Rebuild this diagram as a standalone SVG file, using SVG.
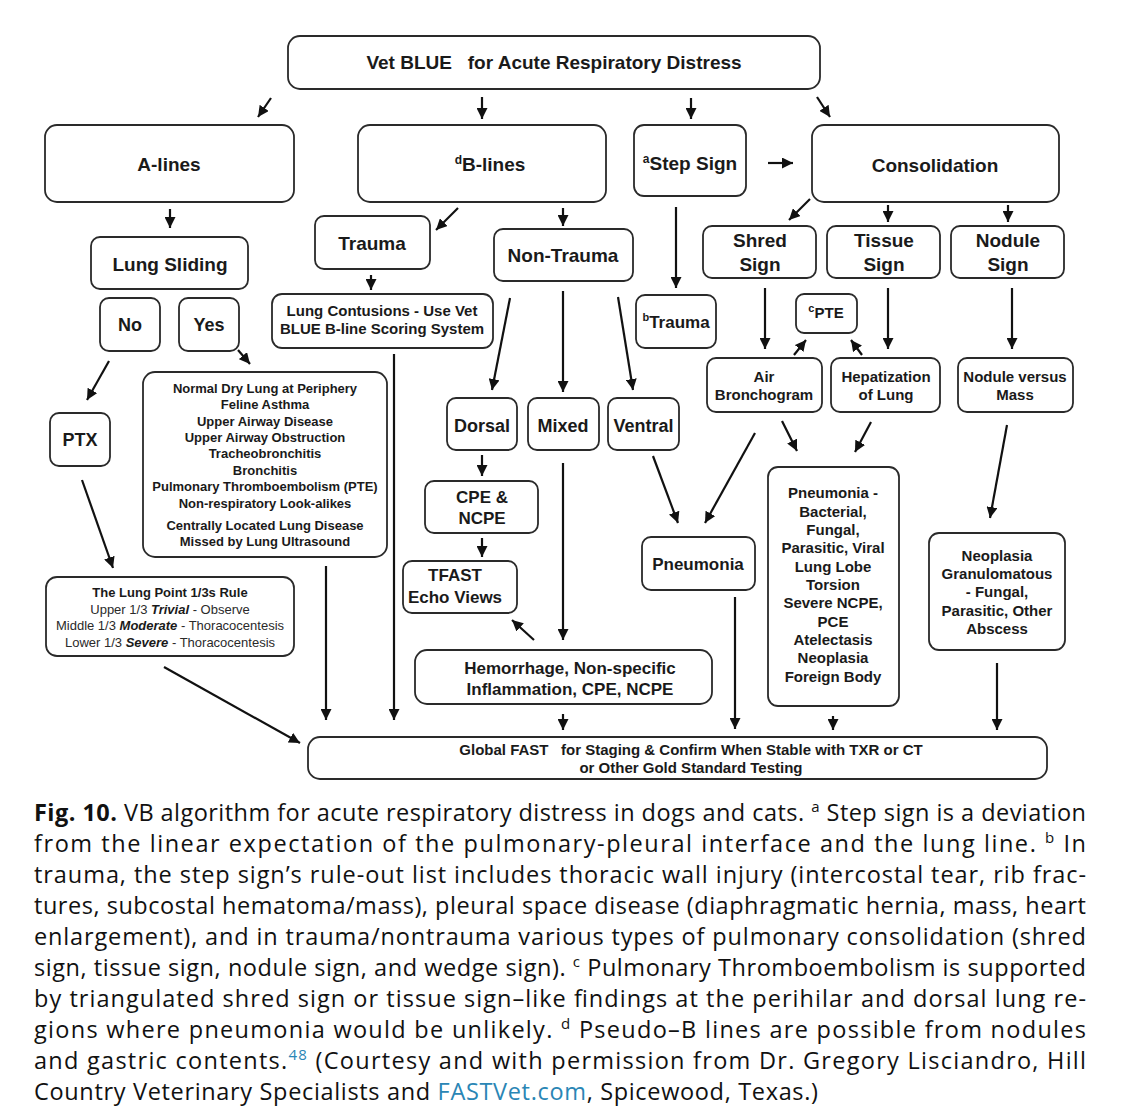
<svg xmlns="http://www.w3.org/2000/svg" width="1128" height="1120" viewBox="0 0 1128 1120">
<style>
.bx{fill:#fff;stroke:#2a2a2a;stroke-width:1.8}
.t{font-family:"Liberation Sans",Arial,sans-serif;font-weight:bold;fill:#1a1a1a;text-anchor:middle}
.s19{font-size:19px}.s18{font-size:18px}.s17{font-size:17px}.s15{font-size:15px}.s13{font-size:13px}
.r{font-weight:normal;fill:#2a2a2a}
.c path{stroke:#111;stroke-width:2.2;fill:none;marker-end:url(#ah)}
.cap{font-family:"Open Sans","Noto Sans",sans-serif;font-size:23.5px;fill:#111}
.bl{fill:#2a86b5}
</style>
<defs>
<marker id="ah" viewBox="0 0 10 10" refX="10" refY="5" markerWidth="11" markerHeight="11" markerUnits="userSpaceOnUse" orient="auto"><path d="M0,0 L10,5 L0,10 z" fill="#111"/></marker>
</defs>
<rect width="1128" height="1120" fill="#fff"/>

<g class="c" id="connectors">
<path d="M271,98 L258,117"/>
<path d="M482,97 L482,119"/>
<path d="M691,98 L691,119"/>
<path d="M817,97 L830,117"/>
<path d="M768,163 L793,163"/>
<path d="M170,209 L170,228"/>
<path d="M458,208 L436,230"/>
<path d="M563,208 L563,226"/>
<path d="M810,199 L789,220"/>
<path d="M888,205 L888,222"/>
<path d="M1008,205 L1008,222"/>
<path d="M371,275 L371,290"/>
<path d="M676,207 L676,288"/>
<path d="M765,288 L765,349"/>
<path d="M888,288 L888,349"/>
<path d="M1012,288 L1012,349"/>
<path d="M794,355 L806,340"/>
<path d="M862,355 L851,340"/>
<path d="M109,361 L87,400"/>
<path d="M238,350 L250,364"/>
<path d="M82,480 L113,568"/>
<path d="M164,667 L300,743"/>
<path d="M326,566 L326,720"/>
<path d="M394,354 L394,720"/>
<path d="M510,298 L492,390"/>
<path d="M563,291 L563,392"/>
<path d="M618,297 L633,390"/>
<path d="M482,455 L482,476"/>
<path d="M482,538 L482,557"/>
<path d="M534,640 L512,620"/>
<path d="M563,463 L563,640"/>
<path d="M563,714 L563,730"/>
<path d="M653,456 L678,523"/>
<path d="M755,433 L705,523"/>
<path d="M735,597 L735,729"/>
<path d="M782,421 L797,451"/>
<path d="M871,422 L855,452"/>
<path d="M833,716 L833,730"/>
<path d="M1007,425 L990,518"/>
<path d="M997,663 L997,730"/>
</g>

<g id="title"><rect class="bx" x="288" y="36" width="532" height="53" rx="12"/>
<text class="t s19" x="554" y="68.5" xml:space="preserve">Vet BLUE   for Acute Respiratory Distress</text></g>

<g id="alines"><rect class="bx" x="45" y="125" width="249" height="77" rx="12"/>
<text class="t s19" x="169" y="171">A-lines</text></g>

<g id="blines"><rect class="bx" x="358" y="125" width="248" height="77" rx="12"/>
<text class="t s19" x="490" y="171"><tspan font-size="12" dy="-7">d</tspan><tspan dy="7">B-lines</tspan></text></g>

<g id="stepsign"><rect class="bx" x="634" y="125" width="112" height="71" rx="10"/>
<text class="t s19" x="690" y="170"><tspan font-size="12" dy="-7">a</tspan><tspan dy="7">Step Sign</tspan></text></g>

<g id="consolidation"><rect class="bx" x="812" y="125" width="247" height="77" rx="12"/>
<text class="t s19" x="935" y="172">Consolidation</text></g>

<g id="lungsliding"><rect class="bx" x="91" y="237" width="157" height="52" rx="9"/>
<text class="t s19" x="170" y="271">Lung Sliding</text></g>

<g id="no"><rect class="bx" x="100" y="298" width="60" height="53" rx="9"/>
<text class="t s18" x="130" y="331">No</text></g>

<g id="yes"><rect class="bx" x="179" y="298" width="60" height="53" rx="9"/>
<text class="t s18" x="209" y="331">Yes</text></g>

<g id="trauma"><rect class="bx" x="315" y="216" width="115" height="53" rx="9"/>
<text class="t s19" x="372" y="250">Trauma</text></g>

<g id="nontrauma"><rect class="bx" x="494" y="229" width="139" height="52" rx="9"/>
<text class="t s19" x="563" y="262">Non-Trauma</text></g>

<g id="contusions"><rect class="bx" x="272" y="294" width="221" height="54" rx="10"/>
<text class="t s15" x="382" y="316">Lung Contusions - Use Vet</text>
<text class="t s15" x="382" y="334">BLUE B-line Scoring System</text></g>

<g id="shred"><rect class="bx" x="703" y="226" width="113" height="52" rx="9"/>
<text class="t s19" x="760" y="247">Shred</text><text class="t s19" x="760" y="271">Sign</text></g>

<g id="tissue"><rect class="bx" x="827" y="226" width="113" height="52" rx="9"/>
<text class="t s19" x="884" y="247">Tissue</text><text class="t s19" x="884" y="271">Sign</text></g>

<g id="nodule"><rect class="bx" x="951" y="226" width="113" height="52" rx="9"/>
<text class="t s19" x="1008" y="247">Nodule</text><text class="t s19" x="1008" y="271">Sign</text></g>

<g id="btrauma"><rect class="bx" x="636" y="295" width="80" height="53" rx="9"/>
<text class="t s17" x="676" y="328"><tspan font-size="11" dy="-7">b</tspan><tspan dy="7">Trauma</tspan></text></g>

<g id="pte"><rect class="bx" x="796" y="294" width="61" height="39" rx="8"/>
<text class="t s15" x="826" y="318"><tspan font-size="11" dy="-6">c</tspan><tspan dy="6">PTE</tspan></text></g>

<g id="airbronch"><rect class="bx" x="707" y="358" width="115" height="54" rx="9"/>
<text class="t s15" x="764" y="382">Air</text><text class="t s15" x="764" y="400">Bronchogram</text></g>

<g id="hepat"><rect class="bx" x="831" y="358" width="109" height="54" rx="9"/>
<text class="t s15" x="886" y="382">Hepatization</text><text class="t s15" x="886" y="400">of Lung</text></g>

<g id="nodmass"><rect class="bx" x="958" y="358" width="115" height="54" rx="9"/>
<text class="t s15" x="1015" y="382">Nodule versus</text><text class="t s15" x="1015" y="400">Mass</text></g>

<g id="ptx"><rect class="bx" x="50" y="413" width="60" height="53" rx="9"/>
<text class="t s18" x="80" y="446">PTX</text></g>

<g id="normal"><rect class="bx" x="143" y="372" width="244" height="185" rx="12"/>
<g class="t s13">
<text x="265" y="392.5">Normal Dry Lung at Periphery</text>
<text x="265" y="408.5">Feline Asthma</text>
<text x="265" y="425.5">Upper Airway Disease</text>
<text x="265" y="441.5">Upper Airway Obstruction</text>
<text x="265" y="457.5">Tracheobronchitis</text>
<text x="265" y="474.5">Bronchitis</text>
<text x="265" y="490.5">Pulmonary Thromboembolism (PTE)</text>
<text x="265" y="507.5">Non-respiratory Look-alikes</text>
<text x="265" y="529.5">Centrally Located Lung Disease</text>
<text x="265" y="545.5">Missed by Lung Ultrasound</text>
</g></g>

<g id="lungpoint"><rect class="bx" x="46" y="577" width="248" height="79" rx="11"/>
<g class="t s13">
<text x="170" y="596.5">The Lung Point 1/3s Rule</text>
<text class="r" x="170" y="613.5">Upper 1/3 <tspan font-weight="bold" font-style="italic" fill="#1a1a1a">Trivial</tspan> - Observe</text>
<text class="r" x="170" y="629.5">Middle 1/3 <tspan font-weight="bold" font-style="italic" fill="#1a1a1a">Moderate</tspan> - Thoracocentesis</text>
<text class="r" x="170" y="646.5">Lower 1/3 <tspan font-weight="bold" font-style="italic" fill="#1a1a1a">Severe</tspan> - Thoracocentesis</text>
</g></g>

<g id="dorsal"><rect class="bx" x="447" y="398" width="70" height="52" rx="9"/>
<text class="t s18" x="482" y="432">Dorsal</text></g>
<g id="mixed"><rect class="bx" x="528" y="398" width="71" height="52" rx="9"/>
<text class="t s18" x="563" y="432">Mixed</text></g>
<g id="ventral"><rect class="bx" x="608" y="398" width="71" height="52" rx="9"/>
<text class="t s18" x="643.5" y="432">Ventral</text></g>

<g id="cpe"><rect class="bx" x="425" y="481" width="113" height="52" rx="9"/>
<text class="t s17" x="482" y="503">CPE &amp;</text><text class="t s17" x="482" y="524">NCPE</text></g>

<g id="tfast"><rect class="bx" x="403" y="561" width="114" height="52" rx="9"/>
<text class="t s17" x="455" y="581">TFAST</text><text class="t s17" x="455" y="603">Echo Views</text></g>

<g id="hemorrhage"><rect class="bx" x="415" y="650" width="297" height="54" rx="12"/>
<text class="t s17" x="570" y="674">Hemorrhage, Non-specific</text>
<text class="t s17" x="570" y="695">Inflammation, CPE, NCPE</text></g>

<g id="pneumonia"><rect class="bx" x="642" y="537" width="113" height="53" rx="9"/>
<text class="t s17" x="698" y="570">Pneumonia</text></g>

<g id="plist"><rect class="bx" x="768" y="467" width="131" height="239" rx="10"/>
<g class="t s15">
<text x="833" y="498">Pneumonia -</text>
<text x="833" y="517">Bacterial,</text>
<text x="833" y="535">Fungal,</text>
<text x="833" y="553">Parasitic, Viral</text>
<text x="833" y="572">Lung Lobe</text>
<text x="833" y="590">Torsion</text>
<text x="833" y="608">Severe NCPE,</text>
<text x="833" y="627">PCE</text>
<text x="833" y="645">Atelectasis</text>
<text x="833" y="663">Neoplasia</text>
<text x="833" y="682">Foreign Body</text>
</g></g>

<g id="neoplasia"><rect class="bx" x="929" y="533" width="136" height="117" rx="10"/>
<g class="t s15">
<text x="997" y="561">Neoplasia</text>
<text x="997" y="579">Granulomatous</text>
<text x="997" y="597">- Fungal,</text>
<text x="997" y="616">Parasitic, Other</text>
<text x="997" y="634">Abscess</text>
</g></g>

<g id="global"><rect class="bx" x="308" y="737" width="739" height="42" rx="12"/>
<text class="t" font-size="15" x="691" y="755" xml:space="preserve">Global FAST   for Staging &amp; Confirm When Stable with TXR or CT</text>
<text class="t" font-size="15" x="691" y="773">or Other Gold Standard Testing</text></g>

<g id="caption" class="cap">
<text x="34" y="821" textLength="1052" lengthAdjust="spacing"><tspan font-weight="bold">Fig. 10.</tspan>  VB algorithm for acute respiratory distress in dogs and cats. <tspan font-size="15" dy="-9">a</tspan><tspan dy="9"> Step sign is a deviation</tspan></text>
<text x="34" y="852" textLength="1052" lengthAdjust="spacing">from the linear expectation of the pulmonary-pleural interface and the lung line. <tspan font-size="15" dy="-9">b</tspan><tspan dy="9"> In</tspan></text>
<text x="34" y="883" textLength="1052" lengthAdjust="spacing">trauma, the step sign’s rule-out list includes thoracic wall injury (intercostal tear, rib frac-</text>
<text x="34" y="914" textLength="1052" lengthAdjust="spacing">tures, subcostal hematoma/mass), pleural space disease (diaphragmatic hernia, mass, heart</text>
<text x="34" y="945" textLength="1052" lengthAdjust="spacing">enlargement), and in trauma/nontrauma various types of pulmonary consolidation (shred</text>
<text x="34" y="976" textLength="1052" lengthAdjust="spacing">sign, tissue sign, nodule sign, and wedge sign). <tspan font-size="15" dy="-9">c</tspan><tspan dy="9"> Pulmonary Thromboembolism is supported</tspan></text>
<text x="34" y="1007" textLength="1052" lengthAdjust="spacing">by triangulated shred sign or tissue sign–like findings at the perihilar and dorsal lung re-</text>
<text x="34" y="1038" textLength="1052" lengthAdjust="spacing">gions where pneumonia would be unlikely. <tspan font-size="15" dy="-9">d</tspan><tspan dy="9"> Pseudo–B lines are possible from nodules</tspan></text>
<text x="34" y="1069" textLength="1052" lengthAdjust="spacing">and gastric contents.<tspan class="bl" font-size="15" dy="-9">48</tspan><tspan dy="9"> (Courtesy and with permission from Dr. Gregory Lisciandro, Hill</tspan></text>
<text x="34" y="1100" textLength="784" lengthAdjust="spacing">Country Veterinary Specialists and <tspan class="bl">FASTVet.com</tspan>, Spicewood, Texas.)</text>
</g>
</svg>
